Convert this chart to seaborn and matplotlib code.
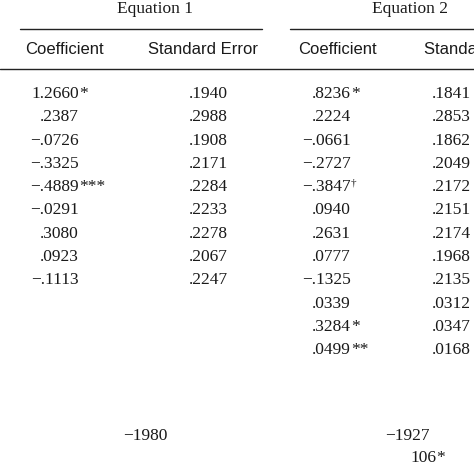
import matplotlib
matplotlib.use("Agg")
import matplotlib.pyplot as plt
import seaborn as sns

sns.set_theme(style="white")
plt.rcParams['font.family'] = ['Liberation Serif', 'DejaVu Serif']

coef1 = ["1.2660", ".2387", "\u2212.0726", "\u2212.3325", "\u2212.4889", "\u2212.0291", ".3080", ".0923", "\u2212.1113"]
sig1 = ["*", "", "", "", "***", "", "", "", ""]
se1 = [".1940", ".2988", ".1908", ".2171", ".2284", ".2233", ".2278", ".2067", ".2247"]
coef2 = [".8236", ".2224", "\u2212.0661", "\u2212.2727", "\u2212.3847", ".0940", ".2631", ".0777", "\u2212.1325", ".0339", ".3284", ".0499"]
sig2 = ["*", "", "", "", "\u2020", "", "", "", "", "", "*", "**"]
se2 = [".1841", ".2853", ".1862", ".2049", ".2172", ".2151", ".2174", ".1968", ".2135", ".0312", ".0347", ".0168"]
headers = ["Coefficient", "Standard Error", "Coefficient", "Standard Error"]
eqs = ["Equation 1", "Equation 2"]

fig = plt.figure(figsize=(4.74, 4.74), dpi=100)
ax = fig.add_axes([0, 0, 1, 1])
ax.set_xlim(0, 474); ax.set_ylim(474, 0); ax.axis("off")
fs = 12.5
kw = dict(fontsize=fs, color="#1a1a1a", va="center", clip_on=True)
hkw = dict(fontsize=12, color="#1a1a1a", va="center", family=['Liberation Sans', 'DejaVu Sans'], clip_on=True)

ax.text(155, 9, eqs[0], ha="center", **kw)
ax.text(410, 9, eqs[1], ha="center", **kw)
ax.plot([20, 262], [29, 29], color="#222", lw=1)
ax.plot([290, 474], [29, 29], color="#222", lw=1)
ax.plot([0, 474], [69, 69], color="#222", lw=1)
for x, h in zip([25, 148, 298, 424], headers):
    ax.text(x, 49, h, ha="left", **hkw)

y0, dy = 94, 23.3
for i, (c, s, e) in enumerate(zip(coef1, sig1, se1)):
    y = y0 + i * dy
    ax.text(79, y, c, ha="right", **kw)
    ax.text(79, y, s, ha="left", **kw)
    ax.text(228, y, e, ha="right", **kw)
for i, (c, s, e) in enumerate(zip(coef2, sig2, se2)):
    y = y0 + i * dy
    ax.text(351, y, c, ha="right", **kw)
    if s == "\u2020":
        ax.text(351, y - 4, s, ha="left", fontsize=8, color="#1a1a1a", va="center")
    else:
        ax.text(351, y, s, ha="left", **kw)
    ax.text(432, y, e, ha="left", **kw)

ax.text(168, 436, "\u22121980", ha="right", **kw)
ax.text(430, 436, "\u22121927", ha="right", **kw)
ax.text(436, 458, "106", ha="right", **kw)
ax.text(436, 458, "*", ha="left", **kw)

fig.savefig("out.png", dpi=100)
